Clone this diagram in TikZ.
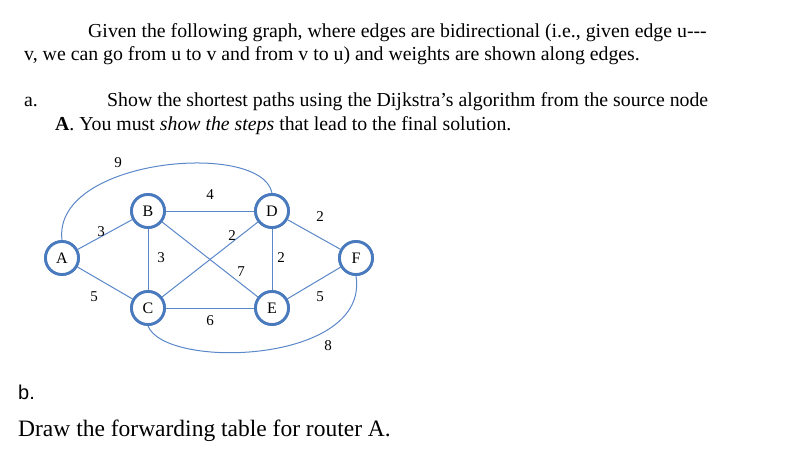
\documentclass[tikz,border=0pt]{standalone}
\usepackage{fontspec}
\setmainfont{Liberation Serif}
\newfontfamily\arialf{Liberation Sans}
\definecolor{nodeblue}{RGB}{74,122,190}
\definecolor{edgeblue}{RGB}{90,135,200}
\begin{document}
\begin{tikzpicture}[x=1pt,y=-1pt,
  vtx/.style={circle,draw=nodeblue,line width=2.8pt,fill=white,minimum size=33pt,inner sep=0pt,font=\fontsize{16}{16}\selectfont},
  edg/.style={draw=edgeblue,line width=1pt},
  wt/.style={font=\fontsize{15}{15}\selectfont,inner sep=1pt},
  txt/.style={anchor=base west,inner sep=0pt,font=\fontsize{19.8}{22}\selectfont}]
\useasboundingbox (0,0) rectangle (790,468);
\node[txt] (t1) at (88,38) {Given the following graph, where edges are bidirectional (i.e., given edge u-{}-{}-};
\node[txt] (t2) at (24,61) {v, we can go from u to v and from v to u) and weights are shown along edges.};
\node[txt] (t3) at (24,107) {a.};
\node[txt] (t4) at (107,107) {Show the shortest paths using the Dijkstra’s algorithm from the source node};
\node[txt] (t5) at (55,131) {\textbf{A}. You must \textit{show the steps} that lead to the final solution.};
\node[txt,font=\arialf\fontsize{20}{22}\selectfont] (t6) at (18,399) {b.};
\node[txt,font=\fontsize{23.5}{26}\selectfont] (t7) at (18,436) {Draw the forwarding table for router A.};
\node[vtx] (A) at (62,258) {A};
\node[vtx] (B) at (148,211) {B};
\node[vtx] (C) at (148,308) {C};
\node[vtx] (D) at (272,211) {D};
\node[vtx] (E) at (272,308) {E};
\node[vtx] (F) at (356,258) {F};
\path[edg] (A.north) .. controls (52,158) and (262,140) .. (D.north);
\path[edg] (C.south) .. controls (165,370) and (370,364) .. (F.south);
\path[edg] (A) -- (B); \path[edg] (A) -- (C); \path[edg] (B) -- (D);
\path[edg] (B) -- (C); \path[edg] (B) -- (E); \path[edg] (C) -- (D);
\path[edg] (D) -- (E); \path[edg] (D) -- (F); \path[edg] (C) -- (E);
\path[edg] (E) -- (F);
\foreach \n in {A,B,C,D,E,F} {\node[vtx] at (\n) {\n};}
\node[wt] (w1) at (118,163) {9};
\node[wt] (w2) at (101,232) {3};
\node[wt] (w3) at (94,297) {5};
\node[wt] (w4) at (210,195) {4};
\node[wt] (w5) at (161,258) {3};
\node[wt] (w6) at (232,236) {2};
\node[wt] (w7) at (241,272) {7};
\node[wt] (w8) at (281,258) {2};
\node[wt] (w9) at (320,217) {2};
\node[wt] (w10) at (320,297) {5};
\node[wt] (w11) at (210,321) {6};
\node[wt] (w12) at (328,346) {8};
\end{tikzpicture}
\end{document}
